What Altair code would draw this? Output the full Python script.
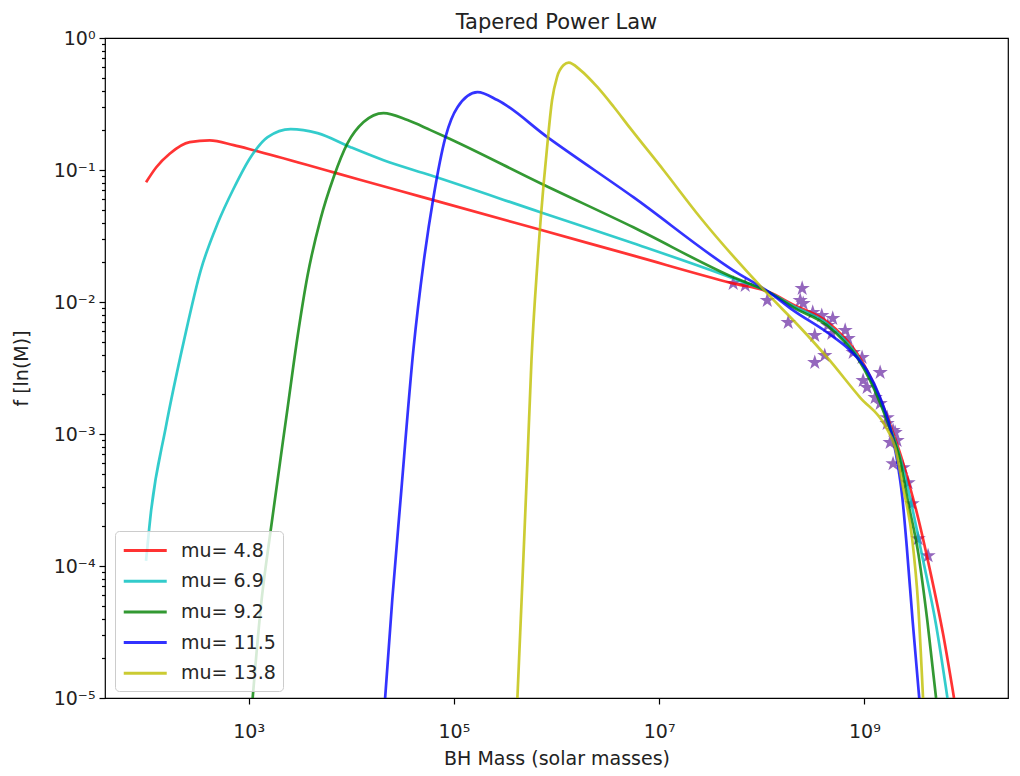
import altair as alt
import pandas as pd

# values, as log10(mass) and log10(f)
red_logm = [2.0, 2.1, 2.23, 2.425, 2.62, 2.854, 3.049, 3.828, 4.48, 4.801, 5.843, 6.749, 7.722,
            8.07, 8.307, 8.638, 8.794, 8.93, 9.057, 9.183, 9.28, 9.358, 9.43, 9.514, 9.641, 9.767, 9.874]
red_logf = [-1.093, -0.979, -0.877, -0.789, -0.776, -0.812, -0.85, -1.018, -1.159, -1.228, -1.453, -1.649, -1.859,
            -1.925, -2.02, -2.15, -2.26, -2.39, -2.565, -2.79, -2.99, -3.17, -3.36, -3.604, -4.036, -4.514, -5.0]

cyan_logm = [2.0, 2.046, 2.192, 2.37, 2.533, 2.698, 2.854, 3.019, 3.185, 3.409, 3.672, 3.993, 4.315, 4.772,
             5.843, 6.749, 7.722, 8.07, 8.307, 8.638, 8.794, 8.93, 9.057, 9.183, 9.28, 9.35, 9.45, 9.56, 9.70, 9.81]
cyan_logf = [-3.961, -3.604, -2.951, -2.291, -1.76, -1.404, -1.14, -0.903, -0.751, -0.69, -0.721, -0.827, -0.926, -1.04,
             -1.32, -1.555, -1.821, -1.925, -2.03, -2.165, -2.275, -2.405, -2.58, -2.805, -3.01, -3.18, -3.50, -3.91, -4.45, -5.0]

green_logm = [3.039, 3.12, 3.214, 3.38, 3.477, 3.574, 3.701, 3.828, 3.964, 4.12, 4.314, 4.548, 4.772, 4.899,
              5.843, 6.749, 7.722, 8.07, 8.307, 8.638, 8.794, 8.93, 9.057, 9.183, 9.28, 9.333, 9.43, 9.527, 9.614, 9.699]
green_logf = [-5.0, -4.3, -3.733, -2.8, -2.26, -1.8, -1.37, -1.055, -0.797, -0.637, -0.569, -0.622, -0.698, -0.742,
              -1.1, -1.434, -1.813, -1.925, -2.041, -2.178, -2.291, -2.42, -2.595, -2.822, -3.027, -3.151, -3.531, -3.91, -4.416, -5.0]

blue_logm = [4.33, 4.40, 4.48, 4.607, 4.704, 4.801, 4.918, 5.035, 5.23, 5.424, 5.911, 6.749, 7.722,
             8.07, 8.307, 8.638, 8.862, 9.027, 9.154, 9.251, 9.319, 9.37, 9.413, 9.471, 9.535]
blue_logf = [-5.0, -4.25, -3.5, -2.35, -1.707, -1.206, -0.751, -0.524, -0.41, -0.47, -0.751, -1.206, -1.76,
             -1.925, -2.064, -2.231, -2.367, -2.519, -2.724, -2.951, -3.2, -3.48, -3.85, -4.42, -5.0]

yellow_logm = [5.619, 5.668, 5.717, 5.756, 5.814, 5.875, 5.908, 5.957, 6.006, 6.07, 6.119, 6.233, 6.395, 6.557,
               6.72, 7.044, 7.401, 8.054, 8.375, 8.638, 8.959, 9.202, 9.3, 9.378, 9.465, 9.524, 9.572]
yellow_logf = [-5.0, -4.112, -3.202, -2.443, -1.707, -1.102, -0.83, -0.47, -0.294, -0.205, -0.187, -0.243, -0.369, -0.521,
               -0.685, -1.002, -1.36, -1.935, -2.193, -2.42, -2.724, -2.936, -3.103, -3.407, -3.786, -4.287, -5.0]

star_logm = [7.722, 7.839, 8.054, 8.394, 8.375, 8.404, 8.258, 8.497, 8.585, 8.692, 8.644, 8.517, 8.683, 8.517,
             8.614, 8.813, 8.842, 8.891, 8.978, 9.154, 8.988, 9.027, 9.105, 9.154, 9.222, 9.28, 9.222, 9.3,
             9.251, 9.319, 9.28, 9.378, 9.426, 9.465, 9.524, 9.621]
star_logf = [-1.859, -1.874, -1.988, -1.897, -1.988, -2.011, -2.155, -2.079, -2.102, -2.124, -2.178, -2.253, -2.238, -2.458,
             -2.405, -2.215, -2.276, -2.382, -2.42, -2.534, -2.595, -2.648, -2.724, -2.769, -2.876, -2.974, -2.921, -2.989,
             -3.065, -3.05, -3.225, -3.255, -3.369, -3.528, -3.794, -3.923]

series_names = ["mu= 4.8", "mu= 6.9", "mu= 9.2", "mu= 11.5", "mu= 13.8"]
series_colors = ["#ff0000", "#00bfbf", "#008000", "#0000ff", "#bfbf00"]

x_ticks = [1e3, 1e5, 1e7, 1e9]
x_tick_labels = ["10³", "10⁵", "10⁷", "10⁹"]
y_ticks = [1, 1e-1, 1e-2, 1e-3, 1e-4, 1e-5]
y_tick_labels = ["10⁰", "10⁻¹", "10⁻²", "10⁻³", "10⁻⁴", "10⁻⁵"]
y_minor = [k * 10.0 ** e for e in range(-5, 0) for k in range(2, 10)]

STAR = ("M0,-1L0.2245,-0.309L0.951,-0.309L0.363,0.118L0.588,0.809L0,0.382"
        "L-0.588,0.809L-0.363,0.118L-0.951,-0.309L-0.2245,-0.309Z")
FONT = "DejaVu Sans"


def label_expr(vals, labels):
    parts = [f"abs(datum.value / {v:g} - 1) < 1e-6 ? '{t}'" for v, t in zip(vals, labels)]
    return " : ".join(parts) + " : ''"


curves = [(red_logm, red_logf), (cyan_logm, cyan_logf), (green_logm, green_logf),
          (blue_logm, blue_logf), (yellow_logm, yellow_logf)]
rows = []
for name, (lm, lf) in zip(series_names, curves):
    for a, b in zip(lm, lf):
        rows.append({"series": name, "mass": 10 ** a, "f": 10 ** b})
lines_df = pd.DataFrame(rows)
stars_df = pd.DataFrame({"mass": [10 ** a for a in star_logm], "f": [10 ** b for b in star_logf]})

x_scale = alt.Scale(type="log", domain=[10 ** 1.6, 10 ** 10.4], nice=False)
y_scale = alt.Scale(type="log", domain=[1e-5, 1], nice=False)

x_axis = alt.Axis(values=x_ticks, labelExpr=label_expr(x_ticks, x_tick_labels), title="BH Mass (solar masses)",
                  tickSize=6, labelPadding=18, titlePadding=8, labelOverlap=False)
y_axis = alt.Axis(values=y_ticks + y_minor, labelExpr=label_expr(y_ticks, y_tick_labels), title="f [ln(M)]",
                  tickSize={"condition": {"test": "abs(log(datum.value) / LN10 - round(log(datum.value) / LN10)) < 1e-6",
                                          "value": 6}, "value": 3.5},
                  labelPadding=4, titlePadding=22, labelOverlap=False)

stars = (
    alt.Chart(stars_df)
    .mark_point(shape=STAR, filled=True, size=260, color="#9467bd", opacity=1, strokeWidth=0)
    .encode(x=alt.X("mass:Q", scale=x_scale, axis=x_axis), y=alt.Y("f:Q", scale=y_scale, axis=y_axis))
)

legend = alt.Legend(
    title=None, orient="none", legendX=10, legendY=493,
    symbolType="M-1,0H3", symbolSize=462, symbolStrokeWidth=3, symbolOpacity=0.8,
    labelFont=FONT, labelFontSize=19, labelColor="#262626", labelOffset=34,
    rowPadding=7.7, padding=7, strokeColor="#cccccc", fillColor="rgba(255,255,255,0.8)", cornerRadius=4,
)

layers = [stars]
for name in series_names:
    layers.append(
        alt.Chart(lines_df)
        .transform_filter(alt.datum.series == name)
        .mark_line(strokeWidth=2.7, opacity=0.8, clip=True, interpolate="monotone")
        .encode(
            x=alt.X("mass:Q", scale=x_scale),
            y=alt.Y("f:Q", scale=y_scale),
            color=alt.Color("series:N", scale=alt.Scale(domain=series_names, range=series_colors), legend=legend),
        )
    )

chart = (
    alt.layer(*layers)
    .properties(
        width=903, height=660,
        title=alt.TitleParams("Tapered Power Law", font=FONT, fontSize=21, fontWeight="normal",
                              color="#222222", anchor="middle", offset=0, dy=4),
        autosize=alt.AutoSizeParams(type="none"),
        padding={"left": 97, "top": 30, "right": 4, "bottom": 70},
    )
    .configure_view(stroke="black", strokeWidth=1.2)
    .configure_axis(domain=False, grid=False, tickColor="black", tickWidth=1.2,
                    labelFont=FONT, labelFontSize=19, labelColor="#222222",
                    titleFont=FONT, titleFontSize=19, titleFontWeight="normal", titleColor="#222222")
)

chart.save("out.html", embed_options={"renderer": "svg", "actions": False})
